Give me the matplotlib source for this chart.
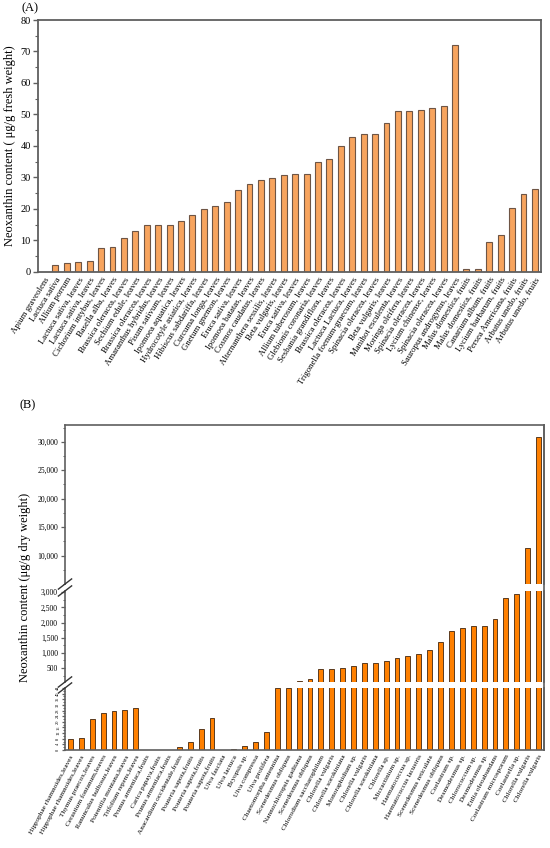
import numpy as np
import matplotlib
matplotlib.use("Agg")
import matplotlib.pyplot as plt
from matplotlib.ticker import MultipleLocator, FuncFormatter

plt.rcParams['font.family'] = ['Liberation Serif', 'DejaVu Serif']

# --- Panel A data (fresh weight) ---
a_labels = [
    "Apium graveolens", "Lactuca sativa", "Allium porrum",
    "Lactuca sativa, leaves", "Lactuca sativa, leaves", "Cichorium intybus, leaves",
    "Basella alba, leaves", "Brassica oleracea, leaves", "Sechium edule, leaves",
    "Brassica oleracea, leaves", "Amaranthus hybridus, leaves", "Pisum sativum, leaves",
    "Ipomoea aquatica, leaves", "Hydrocotyle asiatica, leaves", "Hibiscus sabdariffa, leaves",
    "Curcuma longa, leaves", "Gnetum gnemon, leaves", "Eruca sativa, leaves",
    "Ipomoea batatas, leaves", "Cosmos caudatus, leaves", "Alternanthera sessilis, leaves",
    "Beta vulgaris, leaves", "Eruca sativa, leaves", "Allium tuberosum, leaves",
    "Glebionis coronaria, leaves", "Sesbania grandiflora, leaves", "Brassica oleracea, leaves",
    "Lactuca Lactuca, leaves", "Trigonella foenum-graecum, leaves", "Spinacia oleracea, leaves",
    "Beta vulgaris, leaves", "Manihot esculenta, leaves", "Moringa oleifera, leaves",
    "Spinacia oleracea, leaves", "Lycium chinense, leaves", "Spinacia oleracea, leaves",
    "Sauropus androgynus, leaves", "Malus domestica, fruits", "Malus domestica, fruits",
    "Canarium album, fruits", "Lycium barbarum, fruits", "Persea Americana, fruits",
    "Arbutus unedo, fruits", "Arbutus unedo, fruits",
]
a_values = [
    np.nan, 2.2, 2.65, 3.0, 3.4, 7.4, 7.8, 10.8, 12.9, 14.7, 15.0, 15.0, 16.0,
    17.9, 19.9, 20.9, 22.0, 25.9, 28.0, 29.0, 29.9, 30.6, 30.9, 30.9, 34.9,
    35.9, 40.0, 42.9, 43.9, 43.9, 47.2, 51.0, 51.0, 51.5, 52.0, 52.6, 72.0,
    0.7, 0.85, 9.4, 11.8, 20.1, 24.6, 26.3,
]

# --- Panel B data (dry weight) ---
b_labels = [
    "Hippophae rhamnoides,leaves", "Hippophae rhamnoides,leaves", "Thymus praecox,leaves",
    "Cerastium fontanum,leaves", "Ranunculus bulbosus,leaves", "Potentilla montana,leaves",
    "Trifolium repens,leaves", "Prunus armeniaca,fruits", "Carica papaya,fruits",
    "Prunus armeniaca,fruits", "Anacardium occidentale,fruits", "Pouteria sapota,fruits",
    "Pouteria sapota,fruits", "Pouteria sapota,fruits", "Ulva fasciata", "Ulva lactuca",
    "Bryopsis sp.", "Ulva compressa", "Ulva prolifera", "Chaetomorpha antennina",
    "Scenedesmus obliquus", "Nannochloropsis gaditana", "Scenedesmus obliquus",
    "Chlorodium saccharophilum", "Chlorella vulgaris", "Chlorella sorokiniana",
    "Monoraphidium sp.", "Chlorella vulgaris", "Chlorella sorokiniana", "Chlorella sp.",
    "Micractinium sp.", "Haematococcus sp.", "Haematococcus lacustris",
    "Scenedesmus reticulata", "Scenedesmus obliquus", "Coelastrum sp.",
    "Desmodesmus sp.", "Chlorococcum sp.", "Desmodesmus sp.", "Ettlia oleoabundans",
    "Coelastrum microsporum", "Coelastrella sp.", "Chlorella vulgaris", "Chlorella vulgaris",
]
b_values = [
    7.6, 8.7, 22.2, 26.0, 27.9, 28.6, 30.0, 0, 0, 0.3, 2.1, 5.5, 15.1, 22.9,
    0.3, 0.6, 3.1, 5.7, 13.0, 44, 44, 60, 125, 466, 476, 499, 564, 672, 672,
    728, 826, 901, 957, 1088, 1360, 1710, 1818, 1884, 1894, 2113, 2824, 2955,
    11340, 30780,
]

FRAME = "#5f5f5f"

fig = plt.figure(figsize=(5.5, 8.48), dpi=100)

# ---------------- Panel A ----------------
axA = fig.add_axes([0.0696, 0.6796, 0.9134, 0.2968])
xa = np.arange(len(a_labels))
axA.bar(xa, a_values, width=0.52, color="#F7A45E", edgecolor="#6e5545", linewidth=0.8)
axA.set_xlim(-0.5, len(a_labels) - 0.5)
axA.set_ylim(0, 80)
axA.yaxis.set_major_locator(MultipleLocator(10))
axA.yaxis.set_minor_locator(MultipleLocator(5))
axA.set_xticks(xa)
axA.set_xticklabels(a_labels, rotation=58, ha="right", rotation_mode="anchor", fontsize=6.3)
axA.tick_params(axis="x", length=0, pad=3)
axA.tick_params(axis="y", which="major", length=3.5, width=1, labelsize=7.5, pad=2, color=FRAME)
axA.tick_params(axis="y", which="minor", length=2, width=0.8, color=FRAME)
for s in axA.spines.values():
    s.set_color(FRAME)
    s.set_linewidth(1.3)
axA.set_ylabel("Neoxanthin content ( μg/g fresh weight)", fontsize=9, labelpad=3)
fig.text(0.040, 0.990, "(A)", fontsize=9, va="center", ha="left")

# ---------------- Panel B (broken axis) ----------------
left, width = 0.1182, 0.8709
ax_top = fig.add_axes([left, 0.3113, width, 0.1879])
ax_mid = fig.add_axes([left, 0.1958, width, 0.1073])
ax_bot = fig.add_axes([left, 0.1156, width, 0.0731])
xb = np.arange(len(b_labels))

for ax in (ax_top, ax_mid, ax_bot):
    ax.bar(xb, b_values, width=0.45, color="#FF8000", edgecolor="#5a3a1e", linewidth=0.7)
    ax.set_xlim(-0.5, len(b_labels) - 0.5)
    ax.tick_params(axis="y", which="major", length=3, width=0.9, labelsize=5.5, pad=2, color=FRAME)
    ax.tick_params(axis="y", which="minor", length=1.8, width=0.7, color=FRAME)
    for s in ax.spines.values():
        s.set_color(FRAME)
        s.set_linewidth(1.2)

comma = FuncFormatter(lambda v, p: f"{int(v):,}")

ax_top.set_ylim(5000, 33000)
ax_top.yaxis.set_minor_locator(MultipleLocator(2500))
ax_top.set_yticks([10000, 15000, 20000, 25000, 30000])
ax_top.yaxis.set_major_formatter(comma)
ax_top.spines["bottom"].set_visible(False)
ax_top.tick_params(axis="x", bottom=False, labelbottom=False)

ax_mid.set_ylim(40, 3040)
ax_mid.set_yticks([500, 1000, 1500, 2000, 2500, 3000])
ax_mid.yaxis.set_minor_locator(MultipleLocator(250))
ax_mid.yaxis.set_major_formatter(comma)
ax_mid.spines["top"].set_visible(False)
ax_mid.spines["bottom"].set_visible(False)
ax_mid.tick_params(axis="x", bottom=False, labelbottom=False)

ax_bot.set_ylim(0, 44)
ax_bot.set_yticks(np.arange(0, 45, 4))
ax_bot.yaxis.set_minor_locator(MultipleLocator(2))
ax_bot.tick_params(axis="y", which="major", labelsize=3.2, length=2.5, pad=1)
for lab in ax_bot.get_yticklabels():
    lab.set_rotation(90)
    lab.set_va("center")
ax_bot.spines["top"].set_visible(False)
ax_bot.set_xticks(xb)
ax_bot.set_xticklabels(b_labels, rotation=62, ha="right", rotation_mode="anchor", fontsize=5.2)
ax_bot.tick_params(axis="x", length=0, pad=3)

# break marks on the left spine
d = 0.012
for y0 in (0.3113, 0.3031, 0.1958, 0.1887):
    fig.add_artist(plt.Line2D([left - d, left + d], [y0 - 0.006, y0 + 0.006],
                              color="#333333", linewidth=1.0))

# continuous right frame
fig.add_artist(plt.Line2D([left + width, left + width], [0.1156, 0.4992],
                          color=FRAME, linewidth=1.2))

fig.text(0.045, 0.3073, "Neoxanthin content (μg/g dry weight)", fontsize=9,
         rotation=90, ha="center", va="center")
fig.text(0.036, 0.522, "(B)", fontsize=9, va="center", ha="left")

fig.savefig("out.png", dpi=100)
